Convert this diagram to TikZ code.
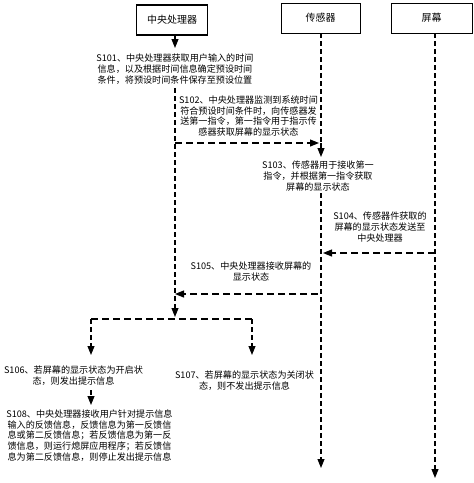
\documentclass[tikz,border=0pt]{standalone}
\usepackage{fontspec}
\newfontfamily\cjk{Noto Sans CJK SC}
\usetikzlibrary{arrows.meta}
\begin{document}
\begin{tikzpicture}[x=1pt,y=-1pt,
  font=\cjk\fontsize{9.1}{10.8}\selectfont,
  box/.style={draw, line width=0.9pt, minimum height=30pt, inner sep=0pt, font=\cjk\fontsize{10}{12}\selectfont},
  txt/.style={align=center, inner sep=0pt},
  tip/.style={-{Triangle[length=9pt,width=7pt]}},
  life/.style={line width=1.1pt, dash pattern=on 5pt off 3pt},
  msg/.style={line width=1.1pt, dash pattern=on 7pt off 4pt}]
\useasboundingbox (0,0) rectangle (474,483);
% boxes
\node[box, line width=1.5pt, minimum width=71pt] (cpu) at (172,20) {中央处理器};
\node[box, minimum width=79pt] (sen) at (320.5,18) {传感器};
\node[box, minimum width=81pt] (scr) at (431.5,18) {屏幕};
% texts
\node[txt] (t101) at (175,69) {S101、中央处理器获取用户输入的时间\\信息，以及根据时间信息确定预设时间\\条件，将预设时间条件保存至预设位置};
\node[txt] (t102) at (248.5,116) {S102、中央处理器监测到系统时间\\符合预设时间条件时，向传感器发\\送第一指令，第一指令用于指示传\\感器获取屏幕的显示状态};
\node[txt] (t103) at (318,176) {S103、传感器用于接收第一\\指令，并根据第一指令获取\\屏幕的显示状态};
\node[txt] (t104) at (380,227) {S104、传感器件获取的\\屏幕的显示状态发送至\\中央处理器};
\node[txt] (t105) at (251,271.5) {S105、中央处理器接收屏幕的\\显示状态};
\node[txt] (t106) at (73.5,375.5) {S106、若屏幕的显示状态为开启状\\态，则发出提示信息};
\node[txt] (t107) at (244.5,380.5) {S107、若屏幕的显示状态为关闭状\\态，则不发出提示信息};
\node[txt] (t108) at (89.5,435.5) {S108、中央处理器接收用户针对提示信息\\输入的反馈信息，反馈信息为第一反馈信\\息或第二反馈信息；若反馈信息为第一反\\馈信息，则运行熄屏应用程序；若反馈信\\息为第二反馈信息，则停止发出提示信息};
% coordinates
\coordinate (c0) at (175,35);
\coordinate (c1) at (175,48);
\coordinate (c2) at (175,88);
\coordinate (c3) at (175,143);
\coordinate (c4) at (175,317);
\coordinate (c5) at (175,294);
\coordinate (s0) at (321,33);
\coordinate (s1) at (321,143);
\coordinate (s2) at (321,157);
\coordinate (s3) at (321,193);
\coordinate (s4) at (321,468);
\coordinate (s5) at (319,143);
\coordinate (s6) at (323,253);
\coordinate (s7) at (318,294);
\coordinate (r0) at (435,33);
\coordinate (r1) at (435,478);
\coordinate (r2) at (435,253);
\coordinate (bl) at (91,319);
\coordinate (br) at (252,319);
\coordinate (bl2) at (91,355);
\coordinate (br2) at (252,355);
\coordinate (d0) at (91,390);
\coordinate (d1) at (91,405);
% CPU lifeline
\draw[line width=1.1pt, tip] (c0) -- (c1);
\draw[life, tip] (c2) -- (c4);
\draw[msg, tip] (c3) -- (s5);
% sensor lifeline
\draw[life] (s0) -- (s1);
\draw[line width=1.1pt, tip] (s1) -- (s2);
\draw[life, tip] (s3) -- (s4);
% screen lifeline
\draw[life, tip] (r0) -- (r1);
% messages
\draw[msg, tip] (r2) -- (s6);
\draw[msg, tip] (s7) -- (c5);
% branch
\draw[msg] (bl) -- (br);
\draw[life, tip] (bl) -- (bl2);
\draw[life, tip] (br) -- (br2);
\draw[life, tip] (d0) -- (d1);
\end{tikzpicture}
\end{document}
